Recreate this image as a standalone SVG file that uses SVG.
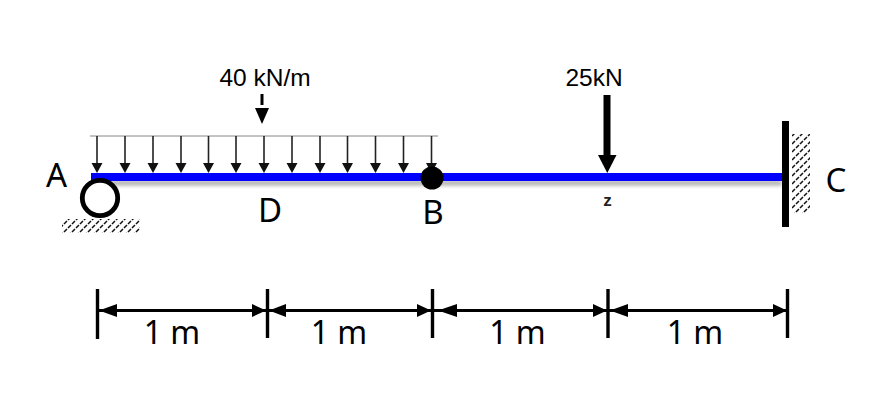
<svg xmlns="http://www.w3.org/2000/svg" width="888" height="404" viewBox="0 0 888 404">
<style>
.lbl{font-family:"Noto Sans","Open Sans",sans-serif;font-size:33px;fill:#000;text-anchor:middle}
.big{font-size:32px}
.load{font-family:"Liberation Sans",Arial,sans-serif;font-size:24.500px;fill:#000;text-anchor:middle}
.dim{stroke:#000;stroke-width:3;fill:none}
.tick{stroke:#000;stroke-width:3.400;fill:none}
.ua{stroke:#222;stroke-width:1.600;fill:none}
.uh{fill:#111}
.ah{fill:#000}
</style>
<defs>
<pattern id="hatch" width="8" height="8" patternUnits="userSpaceOnUse">
<rect width="8" height="8" fill="#fff"/>
<path d="M0 8 L8 0 M-4 4 L4 -4 M4 12 L12 4" stroke="#111" stroke-width="1.500" stroke-dasharray="4.200 1.460"/>
</pattern>
<filter id="soft" x="-10%" y="-100%" width="120%" height="300%"><feGaussianBlur stdDeviation="2"/></filter>
<g id="ua"><line class="ua" x1="0" y1="136" x2="0" y2="164"/><path class="uh" d="M-5.500 163 L5.500 163 L0 173 Z"/></g>
</defs>
<g id="connectors">
<g id="udl">
<line x1="90" y1="136" x2="438" y2="136" stroke="#888" stroke-width="1"/>
<use href="#ua" x="97"/><use href="#ua" x="125"/><use href="#ua" x="153"/><use href="#ua" x="181"/><use href="#ua" x="208.500"/><use href="#ua" x="236"/><use href="#ua" x="264"/><use href="#ua" x="292"/><use href="#ua" x="320"/><use href="#ua" x="347.500"/><use href="#ua" x="375.500"/><use href="#ua" x="403.500"/><use href="#ua" x="431.500"/>
</g>
<g id="udl-pointer">
<line x1="262" y1="94" x2="262" y2="105" stroke="#000" stroke-width="3"/>
<path class="ah" d="M255 108 L269 108 L262 124 Z"/>
</g>
<g id="dimensions">
<line class="tick" x1="97.500" y1="289" x2="97.500" y2="339"/>
<line class="tick" x1="267.500" y1="289" x2="267.500" y2="338"/>
<line class="tick" x1="432.500" y1="289" x2="432.500" y2="338"/>
<line class="tick" x1="608" y1="289" x2="608" y2="338"/>
<line class="tick" x1="787.500" y1="289" x2="787.500" y2="338"/>
<line class="dim" x1="98" y1="310.500" x2="787" y2="310.500"/>
<path class="ah" d="M99 310.500 L117 304 L117 317 Z M266 310.500 L252 304 L252 317 Z M269 310.500 L286 304 L286 317 Z M431 310.500 L417 304 L417 317 Z M438 310.500 L457 304 L457 317 Z M607 310.500 L593 304 L593 317 Z M610 310.500 L628 304 L628 317 Z M787 310.500 L773 304 L773 317 Z"/>
</g>
</g>
<g id="beam">
<rect x="95" y="181" width="687" height="4" fill="#999" filter="url(#soft)"/>
<rect x="91" y="173" width="691" height="8" fill="#0000ff"/>
</g>
<g id="force-25kn">
<rect x="603.500" y="95" width="7" height="61" fill="#000"/>
<path class="ah" d="M598 155 L616.500 155 L607.300 173 Z"/>
</g>
<g id="node-a">
<rect x="62" y="219" width="78" height="14" fill="url(#hatch)"/>
<circle cx="100" cy="198" r="17.700" fill="#fff" stroke="#000" stroke-width="4.800"/>
<text class="lbl" x="56.500" y="187">A</text>
</g>
<g id="node-d"><text class="lbl" x="270" y="222">D</text></g>
<g id="node-b">
<circle cx="432" cy="178" r="11.500" fill="#000"/>
<text class="lbl" x="433" y="224">B</text>
</g>
<g id="node-z"><text x="607.500" y="206" style="font-family:'Liberation Sans',Arial,sans-serif;font-size:17px;font-weight:bold;fill:#222;text-anchor:middle">z</text></g>
<g id="node-c">
<rect x="792" y="134" width="18" height="79" fill="url(#hatch)"/>
<rect x="782" y="121" width="7" height="106" fill="#000"/>
<text class="lbl" x="836" y="192">C</text>
</g>
<g id="labels">
<text class="load" x="265" y="85.500">40 kN/m</text>
<text class="load" x="594" y="85.500">25kN</text>
<text class="lbl big" x="172" y="344">1 m</text>
<text class="lbl big" x="339" y="344">1 m</text>
<text class="lbl big" x="517.500" y="344">1 m</text>
<text class="lbl big" x="695" y="344">1 m</text>
</g>
</svg>
